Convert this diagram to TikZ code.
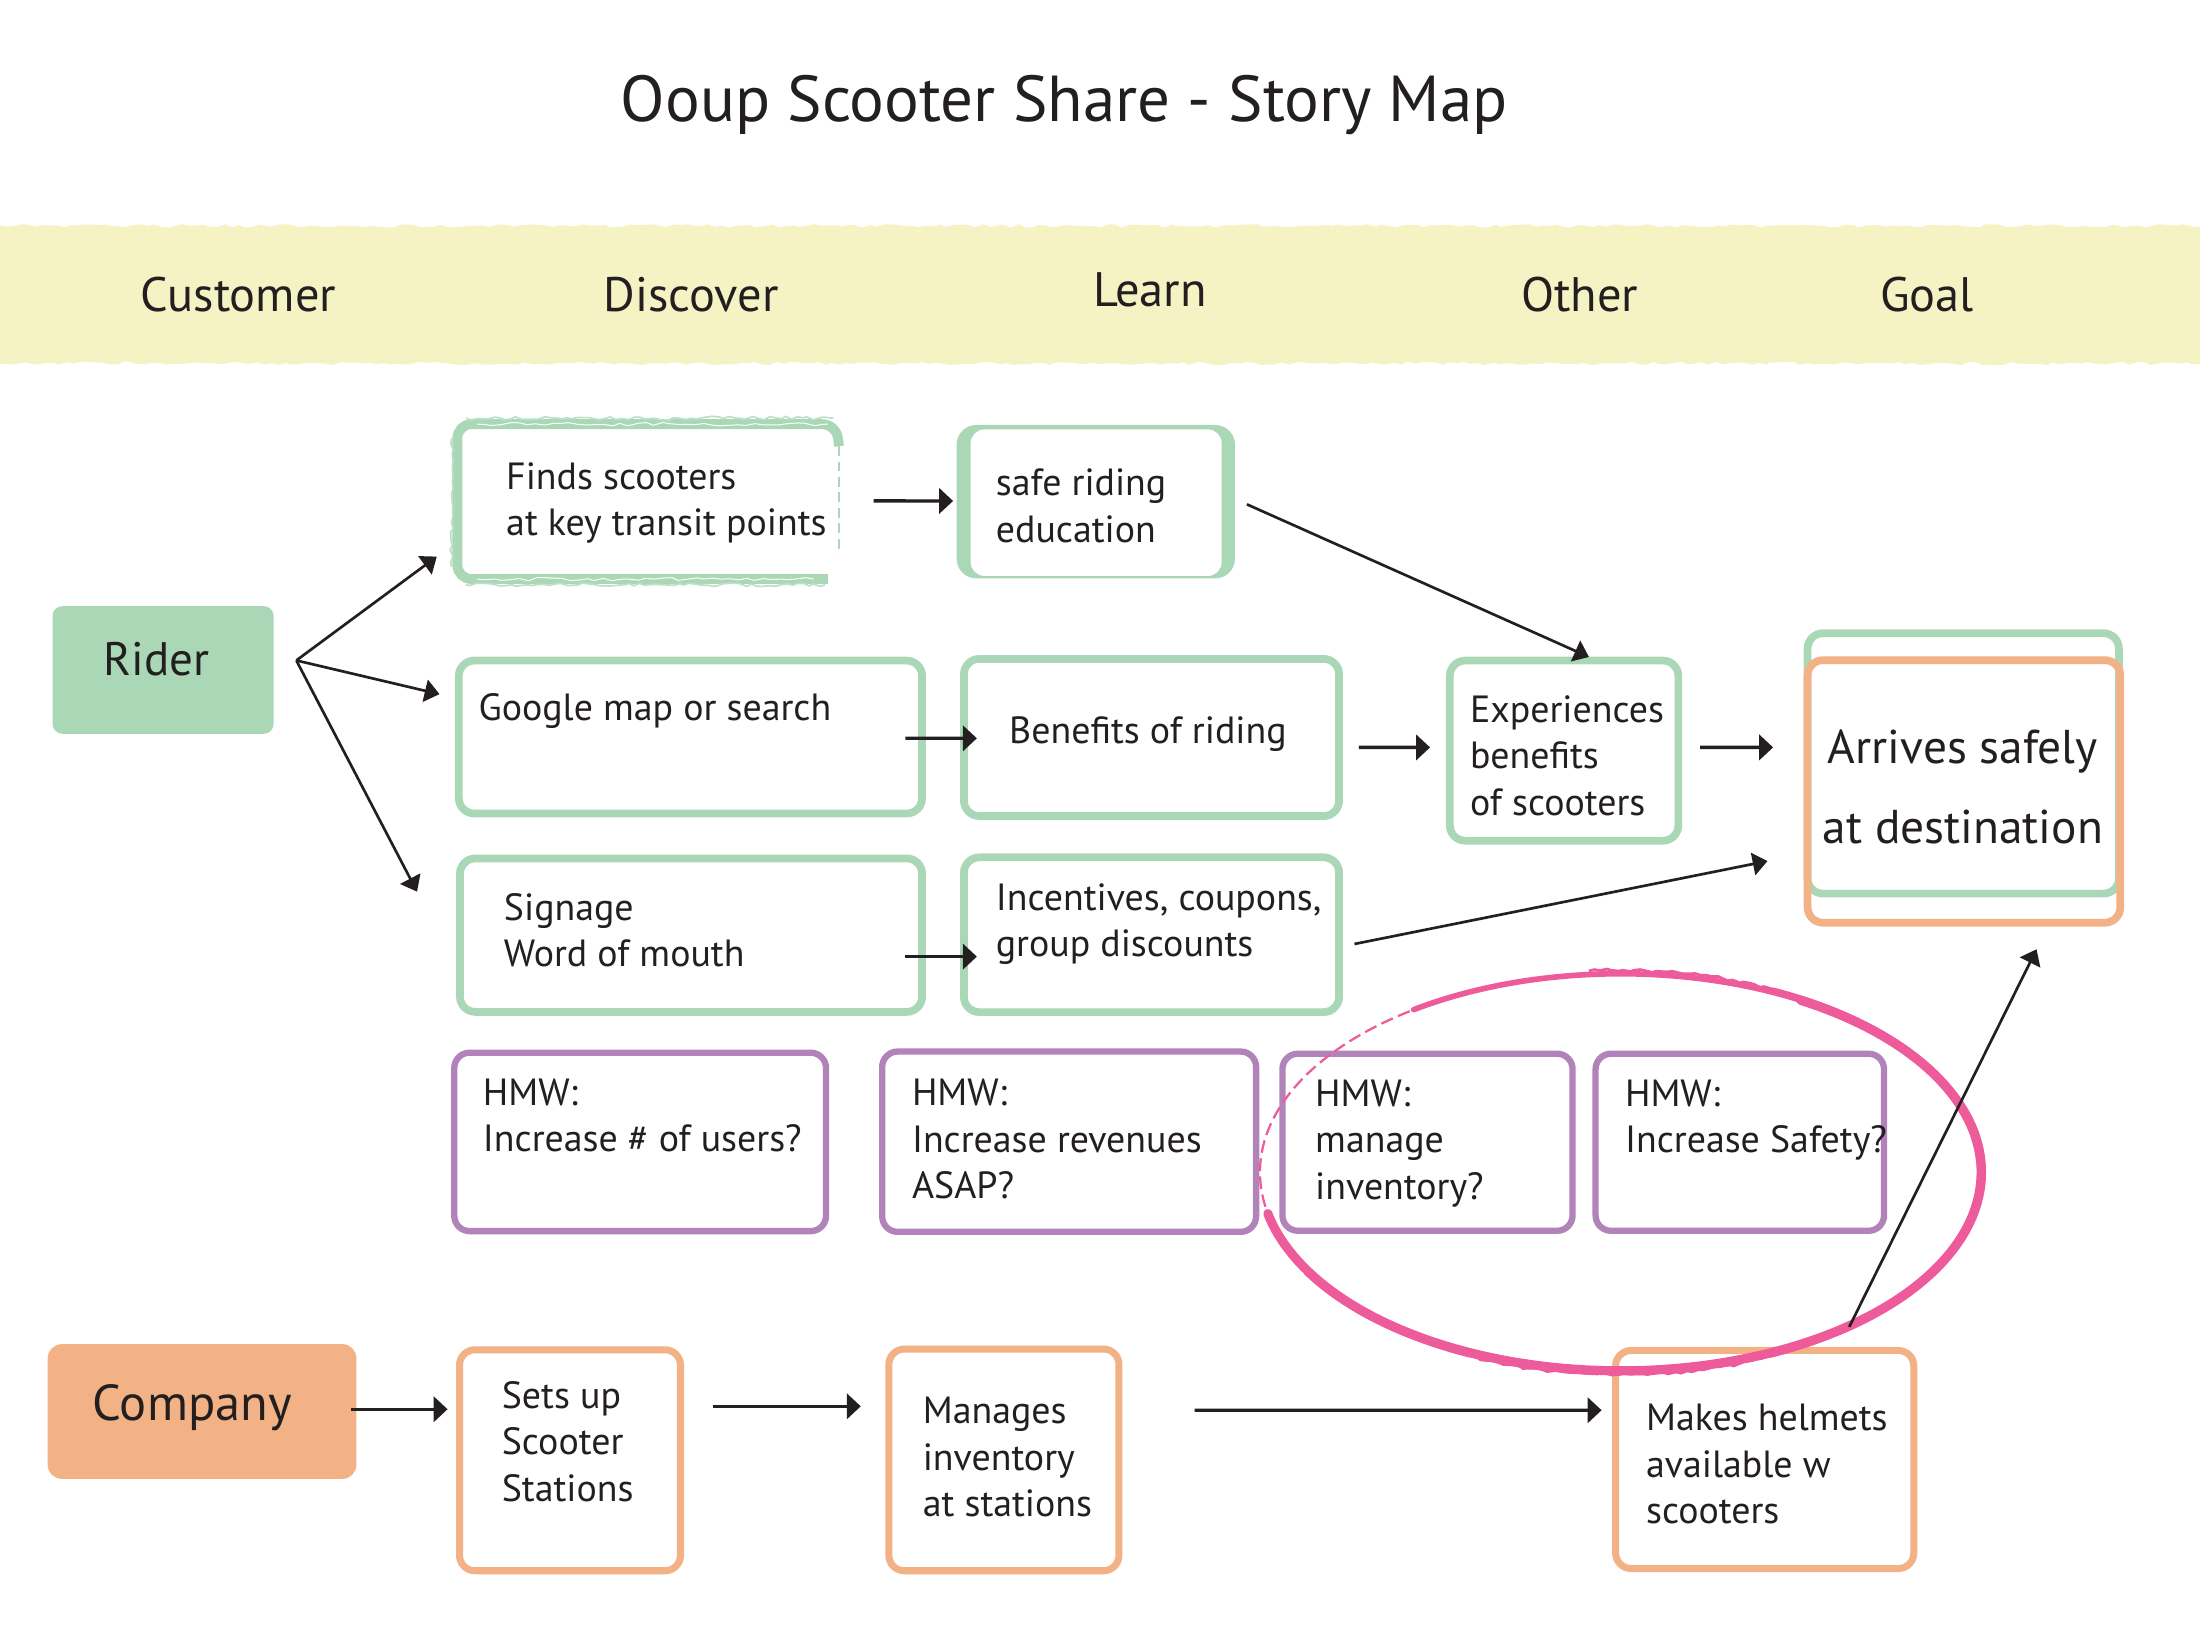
\documentclass[tikz,border=0pt]{standalone}
\usepackage{fontspec}
\setmainfont{PT Sans}
\usetikzlibrary{arrows.meta,decorations.pathmorphing}
\definecolor{ink}{HTML}{231F20}
\definecolor{grn}{HTML}{AAD8B7}
\definecolor{org}{HTML}{F2B285}
\definecolor{prp}{HTML}{B283BA}
\definecolor{pnk}{HTML}{EE5B9B}
\definecolor{band}{HTML}{F5F3C4}
\newcommand\bodyfont{\fontsize{27pt}{33pt}\selectfont}
\newcommand\hdrfont{\fontsize{34.5pt}{40pt}\selectfont}
\newcommand\bigfont{\fontsize{33.8pt}{57pt}\selectfont}
\newcommand\ttlfont{\fontsize{46.3pt}{52pt}\selectfont}
\newcommand\ml[1]{\begin{tabular}[t]{@{}l@{}}#1\end{tabular}}
\newcommand\mc[1]{\begin{tabular}[t]{@{}c@{}}#1\end{tabular}}
\tikzset{
  box/.style={rounded corners=11pt, inner sep=0pt, fill=white},
  gbox/.style={box, draw=grn, line width=5.5pt},
  pbox/.style={box, draw=prp, line width=4.5pt},
  obox/.style={box, draw=org, line width=5pt},
  txt/.style={inner sep=0pt, anchor=base west, text=ink, font=\bodyfont},
  hdr/.style={inner sep=0pt, anchor=base, text=ink, font=\hdrfont},
  arrw/.style={draw=ink, line width=2.4pt, -{Triangle[length=10pt,width=18pt]}},
  arrt/.style={draw=ink, line width=1.9pt, -{Triangle[length=10.5pt,width=16pt]}},
}
\begin{document}
\begin{tikzpicture}[x=1pt,y=-1pt]
\useasboundingbox (0,0) rectangle (1568,1176);
\fill[white] (0,0) rectangle (1568,1176);
\pgfmathsetseed{7}
% header band
\fill[band, decorate, decoration={random steps, segment length=5pt, amplitude=1.2pt}]
  (-5,161) -- (1573,161) -- (1573,259) -- (-5,259) -- cycle;
\node[inner sep=0pt, anchor=base, text=ink, font=\ttlfont] (title) at (758.5,86.8) {Ooup Scooter Share - Story Map};
\node[hdr] (hcust) at (170,222) {Customer};
\node[hdr] (hdisc) at (492.5,222) {Discover};
\node[hdr] (hlearn) at (819.6,218.6) {Learn};
\node[hdr] (hother) at (1126,222) {Other};
\node[hdr] (hgoal) at (1373.5,222) {Goal};

% role boxes
\node[fill=grn, rounded corners=7pt, inner sep=0pt, minimum width=157.5pt, minimum height=91pt] (rider) at (116.25,477.5) {};
\node[hdr, font=\fontsize{33.5pt}{38pt}\selectfont] (ridert) at (111.5,481.6) {Rider};
\node[fill=org, rounded corners=10pt, inner sep=0pt, minimum width=220pt, minimum height=96pt] (company) at (144,1006) {};
\node[hdr, font=\fontsize{36pt}{40pt}\selectfont] (companyt) at (137,1012.6) {Company};

% Finds box (brushed)
\node[inner sep=0pt, minimum width=272pt, minimum height=110.4pt] (finds) at (462,357.5) {};
\draw[grn, line width=7pt, rounded corners=10pt] (590,412.7) -- (326,412.7) -- (326,302.3) -- (596,302.3) -- (598,318);
\draw[grn, line width=2pt, dash pattern=on 7pt off 4pt] (598,318) -- (598,395);
\draw[grn!80, line width=1.2pt, decorate, decoration={random steps, segment length=4pt, amplitude=1.3pt}] (332,298) -- (594,298);
\draw[grn!80, line width=1.2pt, decorate, decoration={random steps, segment length=4pt, amplitude=1.3pt}] (332,416.8) -- (588,416.8);
\draw[white, line width=0.7pt, decorate, decoration={random steps, segment length=6pt, amplitude=1.2pt}] (340,302.3) -- (590,302.3);
\draw[white, line width=0.7pt, decorate, decoration={random steps, segment length=6pt, amplitude=1.2pt}] (340,412.7) -- (580,412.7);
\draw[grn!80, line width=1.2pt, decorate, decoration={random steps, segment length=4pt, amplitude=1.2pt}] (322,312) -- (322,404);
\node[txt] (findst) at (360.6,348.8) {\ml{Finds scooters\\at key transit points}};

% safe riding box (thick sides)
\node[fill=grn, rounded corners=14pt, inner sep=0pt, minimum width=198.4pt, minimum height=109.3pt] (safe) at (781,357.55) {};
\fill[white, rounded corners=10pt] (691.8,306) rectangle (870.7,410.5);
\node[txt] (safet) at (709.6,353.3) {\ml{safe riding\\education}};

% green boxes
\node[gbox, minimum width=330.2pt, minimum height=109pt] (google) at (492.1,525.3) {};
\node[txt] (googlet) at (340.9,513.6) {Google map or search};
\node[gbox, minimum width=267.4pt, minimum height=112pt] (benef) at (820.7,525.6) {};
\node[txt] (beneft) at (719.1,529.8) {Benefits of riding};
\node[gbox, minimum width=329.4pt, minimum height=109.4pt] (sign) at (492.5,666.5) {};
\node[txt] (signt) at (359,656) {\ml{Signage\\Word of mouth}};
\node[gbox, minimum width=267.4pt, minimum height=110.3pt] (incent) at (820.7,666.2) {};
\node[txt] (incentt) at (709.6,649) {\ml{Incentives, coupons,\\group discounts}};
\node[gbox, minimum width=162.9pt, minimum height=128.4pt] (exper) at (1114.75,535) {};
\node[txt] (expert) at (1047.5,515) {\ml{Experiences\\benefits\\of scooters}};

% goal box (double frame)
\node[gbox, minimum width=221.9pt, minimum height=185.6pt] (arrG) at (1399.25,544.1) {};
\node[box, fill=none, draw=org, line width=5.5pt, minimum width=222.9pt, minimum height=187.1pt] (arrO) at (1399.75,564.05) {};
\node[inner sep=0pt, anchor=base, text=ink, font=\bigfont] (arrt) at (1399,544.5) {\mc{Arrives safely\\at destination}};

% HMW boxes
\node[pbox, minimum width=265pt, minimum height=127.2pt] (hmw1) at (456.25,813.85) {};
\node[txt] (hmw1t) at (344,788) {\ml{HMW:\\Increase \# of users?}};
\node[pbox, minimum width=266.5pt, minimum height=128.5pt] (hmw2) at (762,813.7) {};
\node[txt] (hmw2t) at (649.8,788.2) {\ml{HMW:\\Increase revenues\\ASAP?}};
\node[pbox, minimum width=206.8pt, minimum height=126.2pt] (hmw3) at (1017.4,814.1) {};
\node[txt] (hmw3t) at (937.2,788.7) {\ml{HMW:\\manage\\inventory?}};
\node[pbox, minimum width=205.6pt, minimum height=126.2pt] (hmw4) at (1240,814.1) {};
\node[txt] (hmw4t) at (1158,788.5) {\ml{HMW:\\Increase Safety?}};

% company row
\node[obox, minimum width=157.5pt, minimum height=157.5pt] (sets) at (406.25,1040.75) {};
\node[txt] (setst) at (357.5,1003.8) {\ml{Sets up\\Scooter\\Stations}};
\node[obox, minimum width=164pt, minimum height=158pt] (manag) at (715.5,1040.5) {};
\node[txt] (managt) at (657.5,1014.7) {\ml{Manages\\inventory\\at stations}};
\node[obox, minimum width=212.5pt, minimum height=155.4pt] (makes) at (1257.75,1040.2) {};
\node[txt] (makest) at (1173,1019.8) {\ml{Makes helmets\\available w\\scooters}};

% pink ellipse
\draw[pnk, line width=6.5pt, line cap=round] plot[domain=-60:168, samples=140] ({1155+257*cos(\x)},{835.5+141.5*sin(\x)});
\draw[pnk, line width=2pt, decorate, decoration={random steps, segment length=5pt, amplitude=1.2pt}] plot[domain=-95:150, samples=140] ({1155+259.5*cos(\x)},{835.5+144*sin(\x)});
\draw[pnk, line width=4pt, line cap=round] plot[domain=-125:-55, samples=60] ({1155+257*cos(\x)},{835.5+141.5*sin(\x)});
\draw[pnk, line width=1.6pt, dash pattern=on 9pt off 4pt] plot[domain=165:236, samples=60] ({1155+257*cos(\x)},{835.5+141.5*sin(\x)});

% connectors
\coordinate (fan) at ([shift={(16,-6.8)}]rider.east);
\draw[arrt] (fan) -- ([shift={(-14.5,-16.2)}]finds.south west);
\draw[arrt] (fan) -- ([shift={(-11,26.7)}]google.north west);
\draw[arrt] (fan) -- ([shift={(-27.8,-31)}]sign.west);
\draw[arrw] ([shift={(24.5,-0.5)}]finds.east) -- ([shift={(-2.3,-0.5)}]safe.west);
\draw[arrt] ([shift={(8.3,1.9)}]safe.east) -- ([shift={(17.75,0.2)}]exper.north);
\draw[arrw] ([shift={(-14.7,0.9)}]google.east) -- ([shift={(12,0.6)}]benef.west);
\draw[arrw] ([shift={(-14.7,15.3)}]sign.east) -- ([shift={(12,15.6)}]incent.west);
\draw[arrw] ([shift={(11.3,7.1)}]benef.east) -- ([shift={(-11.3,-2.3)}]exper.west);
\draw[arrw] ([shift={(12.8,-2.3)}]exper.east) -- ([shift={(-21.8,-11.4)}]arrG.west);
\draw[arrt] ([shift={(8.2,6.6)}]incent.east) -- ([shift={(-25.8,69.6)}]arrG.west);
\draw[arrw] ([shift={(-4,-1.6)}]company.east) -- ([shift={(-6,-36.35)}]sets.west);
\draw[arrw] ([shift={(21,-38.45)}]sets.east) -- ([shift={(-17.5,-38.2)}]manag.west);
\draw[arrw] ([shift={(51.5,-35.4)}]manag.east) -- ([shift={(-7.5,-35.1)}]makes.west);
\draw[arrt] ([shift={(60.25,-14.3)}]makes.north) -- ([shift={(51.75,16.2)}]arrO.south);
\end{tikzpicture}
\end{document}
